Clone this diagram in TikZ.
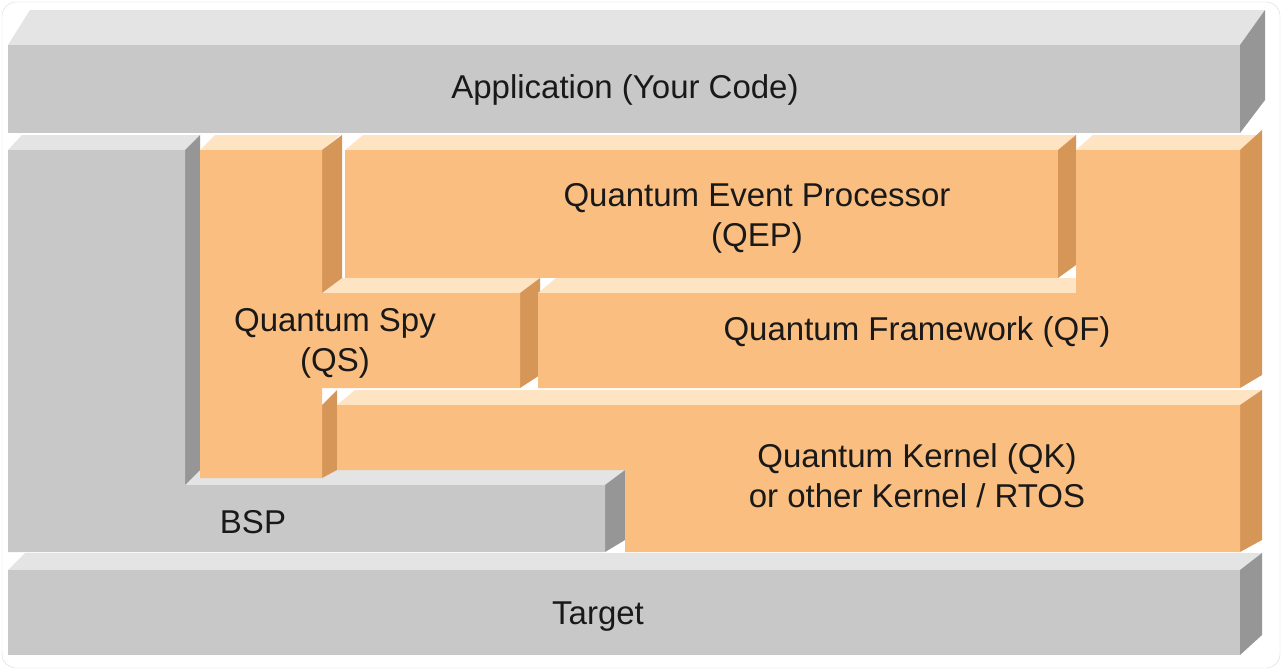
\documentclass[tikz,border=0pt]{standalone}
\usepackage{fontspec}
\setmainfont{Liberation Sans}
\definecolor{ofront}{RGB}{250,190,128}
\definecolor{otop}{RGB}{255,228,196}
\definecolor{oside}{RGB}{214,150,88}
\definecolor{gfront}{RGB}{200,200,200}
\definecolor{gtop}{RGB}{228,228,228}
\definecolor{gside}{RGB}{150,150,150}
\begin{document}
\begin{tikzpicture}[x=1pt,y=-1pt,
  of/.style={fill=ofront}, ot/.style={fill=otop}, os/.style={fill=oside},
  gf/.style={fill=gfront}, gt/.style={fill=gtop}, gs/.style={fill=gside},
  lbl/.style={font=\fontsize{33}{40}\selectfont, text=black!90, align=center, inner sep=0pt}]
\useasboundingbox (0,0) rectangle (1282,670);
\draw[draw=black!15, fill=white, rounded corners=14] (2,2) rectangle (1280,668);
% Application
\path[gt] (8,45)--(30,10)--(1265,10)--(1240,45)--cycle;
\path[gs] (1240,45)--(1265,10)--(1265,100)--(1240,133)--cycle;
\path[gf] (8,45) rectangle (1240,133);
% BSP (L shape)
\path[gt] (8,150)--(22,135)--(200,135)--(185,150)--cycle;
\path[gt] (185,485)--(200,470)--(625,470)--(605,485)--cycle;
\path[gs] (185,150)--(200,135)--(200,470)--(185,485)--cycle;
\path[gs] (605,485)--(625,470)--(625,540)--(605,552)--cycle;
\path[gf] (8,150)--(185,150)--(185,485)--(605,485)--(605,552)--(8,552)--cycle;
% QS
\path[ot] (200,150)--(215,135)--(340,135)--(322,150)--cycle;
\path[ot] (322,293)--(342,278)--(540,278)--(520,293)--cycle;
\path[os] (322,150)--(342,135)--(342,278)--(322,293)--cycle;
\path[os] (520,293)--(540,278)--(540,375)--(520,388)--cycle;
\path[os] (322,405)--(337,390)--(337,470)--(322,478)--cycle;
\path[of] (200,150)--(322,150)--(322,293)--(520,293)--(520,388)--(322,388)--(322,478)--(200,478)--cycle;
% QEP
\path[ot] (345,150)--(363,135)--(1076,135)--(1058,150)--cycle;
\path[os] (1058,150)--(1076,135)--(1076,265)--(1058,278)--cycle;
\path[of] (345,150) rectangle (1058,278);
% QF
\path[ot] (1076,150)--(1093,135)--(1262,135)--(1240,150)--cycle;
\path[ot] (538,293)--(556,278)--(1076,278)--(1076,293)--cycle;
\path[os] (1240,150)--(1262,130)--(1262,375)--(1240,388)--cycle;
\path[of] (538,293)--(1076,293)--(1076,150)--(1240,150)--(1240,388)--(538,388)--cycle;
% QK
\path[ot] (337,405)--(355,390)--(1262,390)--(1240,405)--cycle;
\path[os] (1240,405)--(1262,390)--(1262,540)--(1240,552)--cycle;
\path[of] (337,405)--(1240,405)--(1240,552)--(625,552)--(625,470)--(337,470)--cycle;
% Target
\path[gt] (8,570)--(25,553)--(1262,553)--(1240,570)--cycle;
\path[gs] (1240,570)--(1262,553)--(1262,635)--(1240,655)--cycle;
\path[gf] (8,570) rectangle (1240,655);
% labels
\node[lbl] (app) at (625,90) {Application (Your Code)};
\node[lbl] (qep) at (757,218) {Quantum Event Processor\\(QEP)};
\node[lbl] (qs) at (335,343) {Quantum Spy\\(QS)};
\node[lbl] (qf) at (917,332) {Quantum Framework (QF)};
\node[lbl] (qk) at (917,476) {Quantum Kernel (QK)\\or other Kernel / RTOS};
\node[lbl] (bsp) at (253,522) {BSP};
\node[lbl] (tgt) at (598,617) {Target};
\end{tikzpicture}
\end{document}
